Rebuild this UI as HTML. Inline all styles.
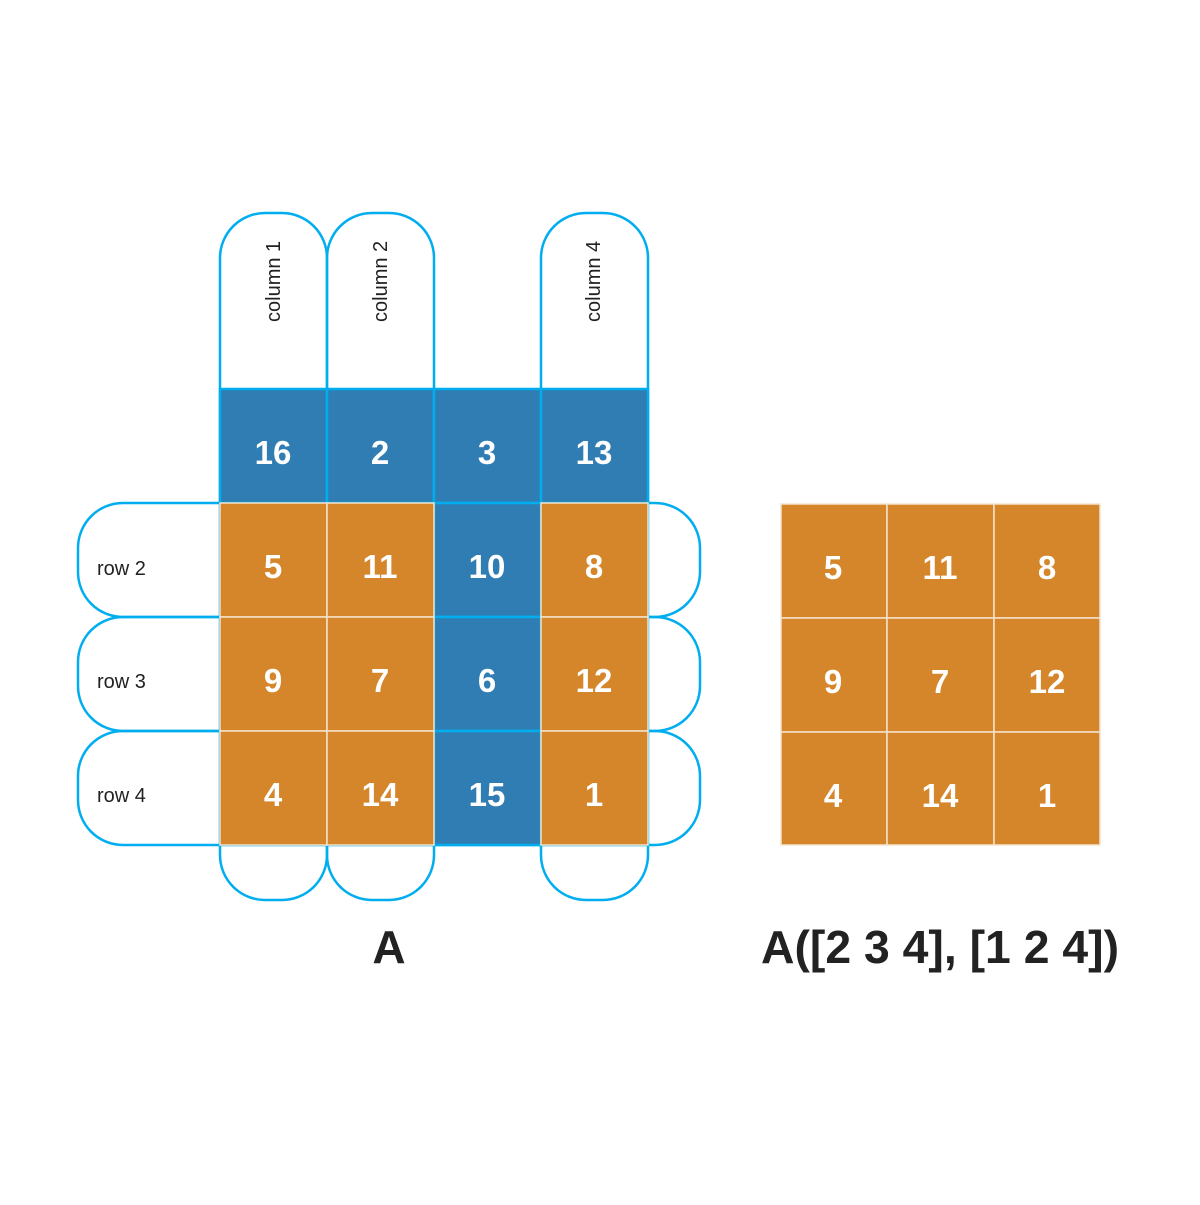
<!DOCTYPE html>
<html><head><meta charset="utf-8"><style>html,body{margin:0;padding:0;background:#fff}</style></head>
<body>
<svg width="1200" height="1200" viewBox="0 0 1200 1200" xmlns="http://www.w3.org/2000/svg">
<g fill="none" stroke="#00aeef" stroke-width="2.5">
<rect x="220" y="213" width="107" height="687" rx="45"/>
<rect x="327" y="213" width="107" height="687" rx="45"/>
<rect x="541" y="213" width="107" height="687" rx="45"/>
<rect x="78" y="503" width="622" height="114" rx="45"/>
<rect x="78" y="617" width="622" height="114" rx="45"/>
<rect x="78" y="731" width="622" height="114" rx="45"/>
</g>
<g stroke="#00aeef" stroke-width="2.5">
<rect x="220" y="389" width="107" height="114" fill="#2f7db2"/>
<rect x="327" y="389" width="107" height="114" fill="#2f7db2"/>
<rect x="434" y="389" width="107" height="114" fill="#2f7db2"/>
<rect x="541" y="389" width="107" height="114" fill="#2f7db2"/>
<rect x="434" y="503" width="107" height="114" fill="#2f7db2"/>
<rect x="434" y="617" width="107" height="114" fill="#2f7db2"/>
<rect x="434" y="731" width="107" height="114" fill="#2f7db2"/>
</g>
<g fill="#d5862a" stroke="#f3e3cc" stroke-width="1.5">
<rect x="220" y="503" width="107" height="114"/><rect x="327" y="503" width="107" height="114"/><rect x="541" y="503" width="107" height="114"/>
<rect x="220" y="617" width="107" height="114"/><rect x="327" y="617" width="107" height="114"/><rect x="541" y="617" width="107" height="114"/>
<rect x="220" y="731" width="107" height="114"/><rect x="327" y="731" width="107" height="114"/><rect x="541" y="731" width="107" height="114"/>
<rect x="781" y="504" width="106" height="114"/><rect x="887" y="504" width="107" height="114"/><rect x="994" y="504" width="106" height="114"/>
<rect x="781" y="618" width="106" height="114"/><rect x="887" y="618" width="107" height="114"/><rect x="994" y="618" width="106" height="114"/>
<rect x="781" y="732" width="106" height="113"/><rect x="887" y="732" width="107" height="113"/><rect x="994" y="732" width="106" height="113"/>
</g>
<g fill="#fff" font-family="Liberation Sans, sans-serif" font-size="33" font-weight="600" text-anchor="middle">
<text x="273" y="464">16</text><text x="380" y="464">2</text><text x="487" y="464">3</text><text x="594" y="464">13</text>
<text x="273" y="578">5</text><text x="380" y="578">11</text><text x="487" y="578">10</text><text x="594" y="578">8</text>
<text x="273" y="692">9</text><text x="380" y="692">7</text><text x="487" y="692">6</text><text x="594" y="692">12</text>
<text x="273" y="806">4</text><text x="380" y="806">14</text><text x="487" y="806">15</text><text x="594" y="806">1</text>
<text x="833" y="579">5</text><text x="940" y="579">11</text><text x="1047" y="579">8</text>
<text x="833" y="693">9</text><text x="940" y="693">7</text><text x="1047" y="693">12</text>
<text x="833" y="807">4</text><text x="940" y="807">14</text><text x="1047" y="807">1</text>
</g>
<g fill="#222" font-family="Liberation Sans, sans-serif" font-size="20">
<text x="97" y="575">row 2</text><text x="97" y="688">row 3</text><text x="97" y="802">row 4</text>
<text transform="translate(280,322) rotate(-90)">column 1</text>
<text transform="translate(387,322) rotate(-90)">column 2</text>
<text transform="translate(600,322) rotate(-90)">column 4</text>
</g>
<g fill="#222" font-family="Liberation Sans, sans-serif" font-size="46" font-weight="bold" text-anchor="middle">
<text x="389" y="963">A</text>
<text x="940" y="963" textLength="358" lengthAdjust="spacingAndGlyphs">A([2 3 4], [1 2 4])</text>
</g>
</svg>
</body></html>
